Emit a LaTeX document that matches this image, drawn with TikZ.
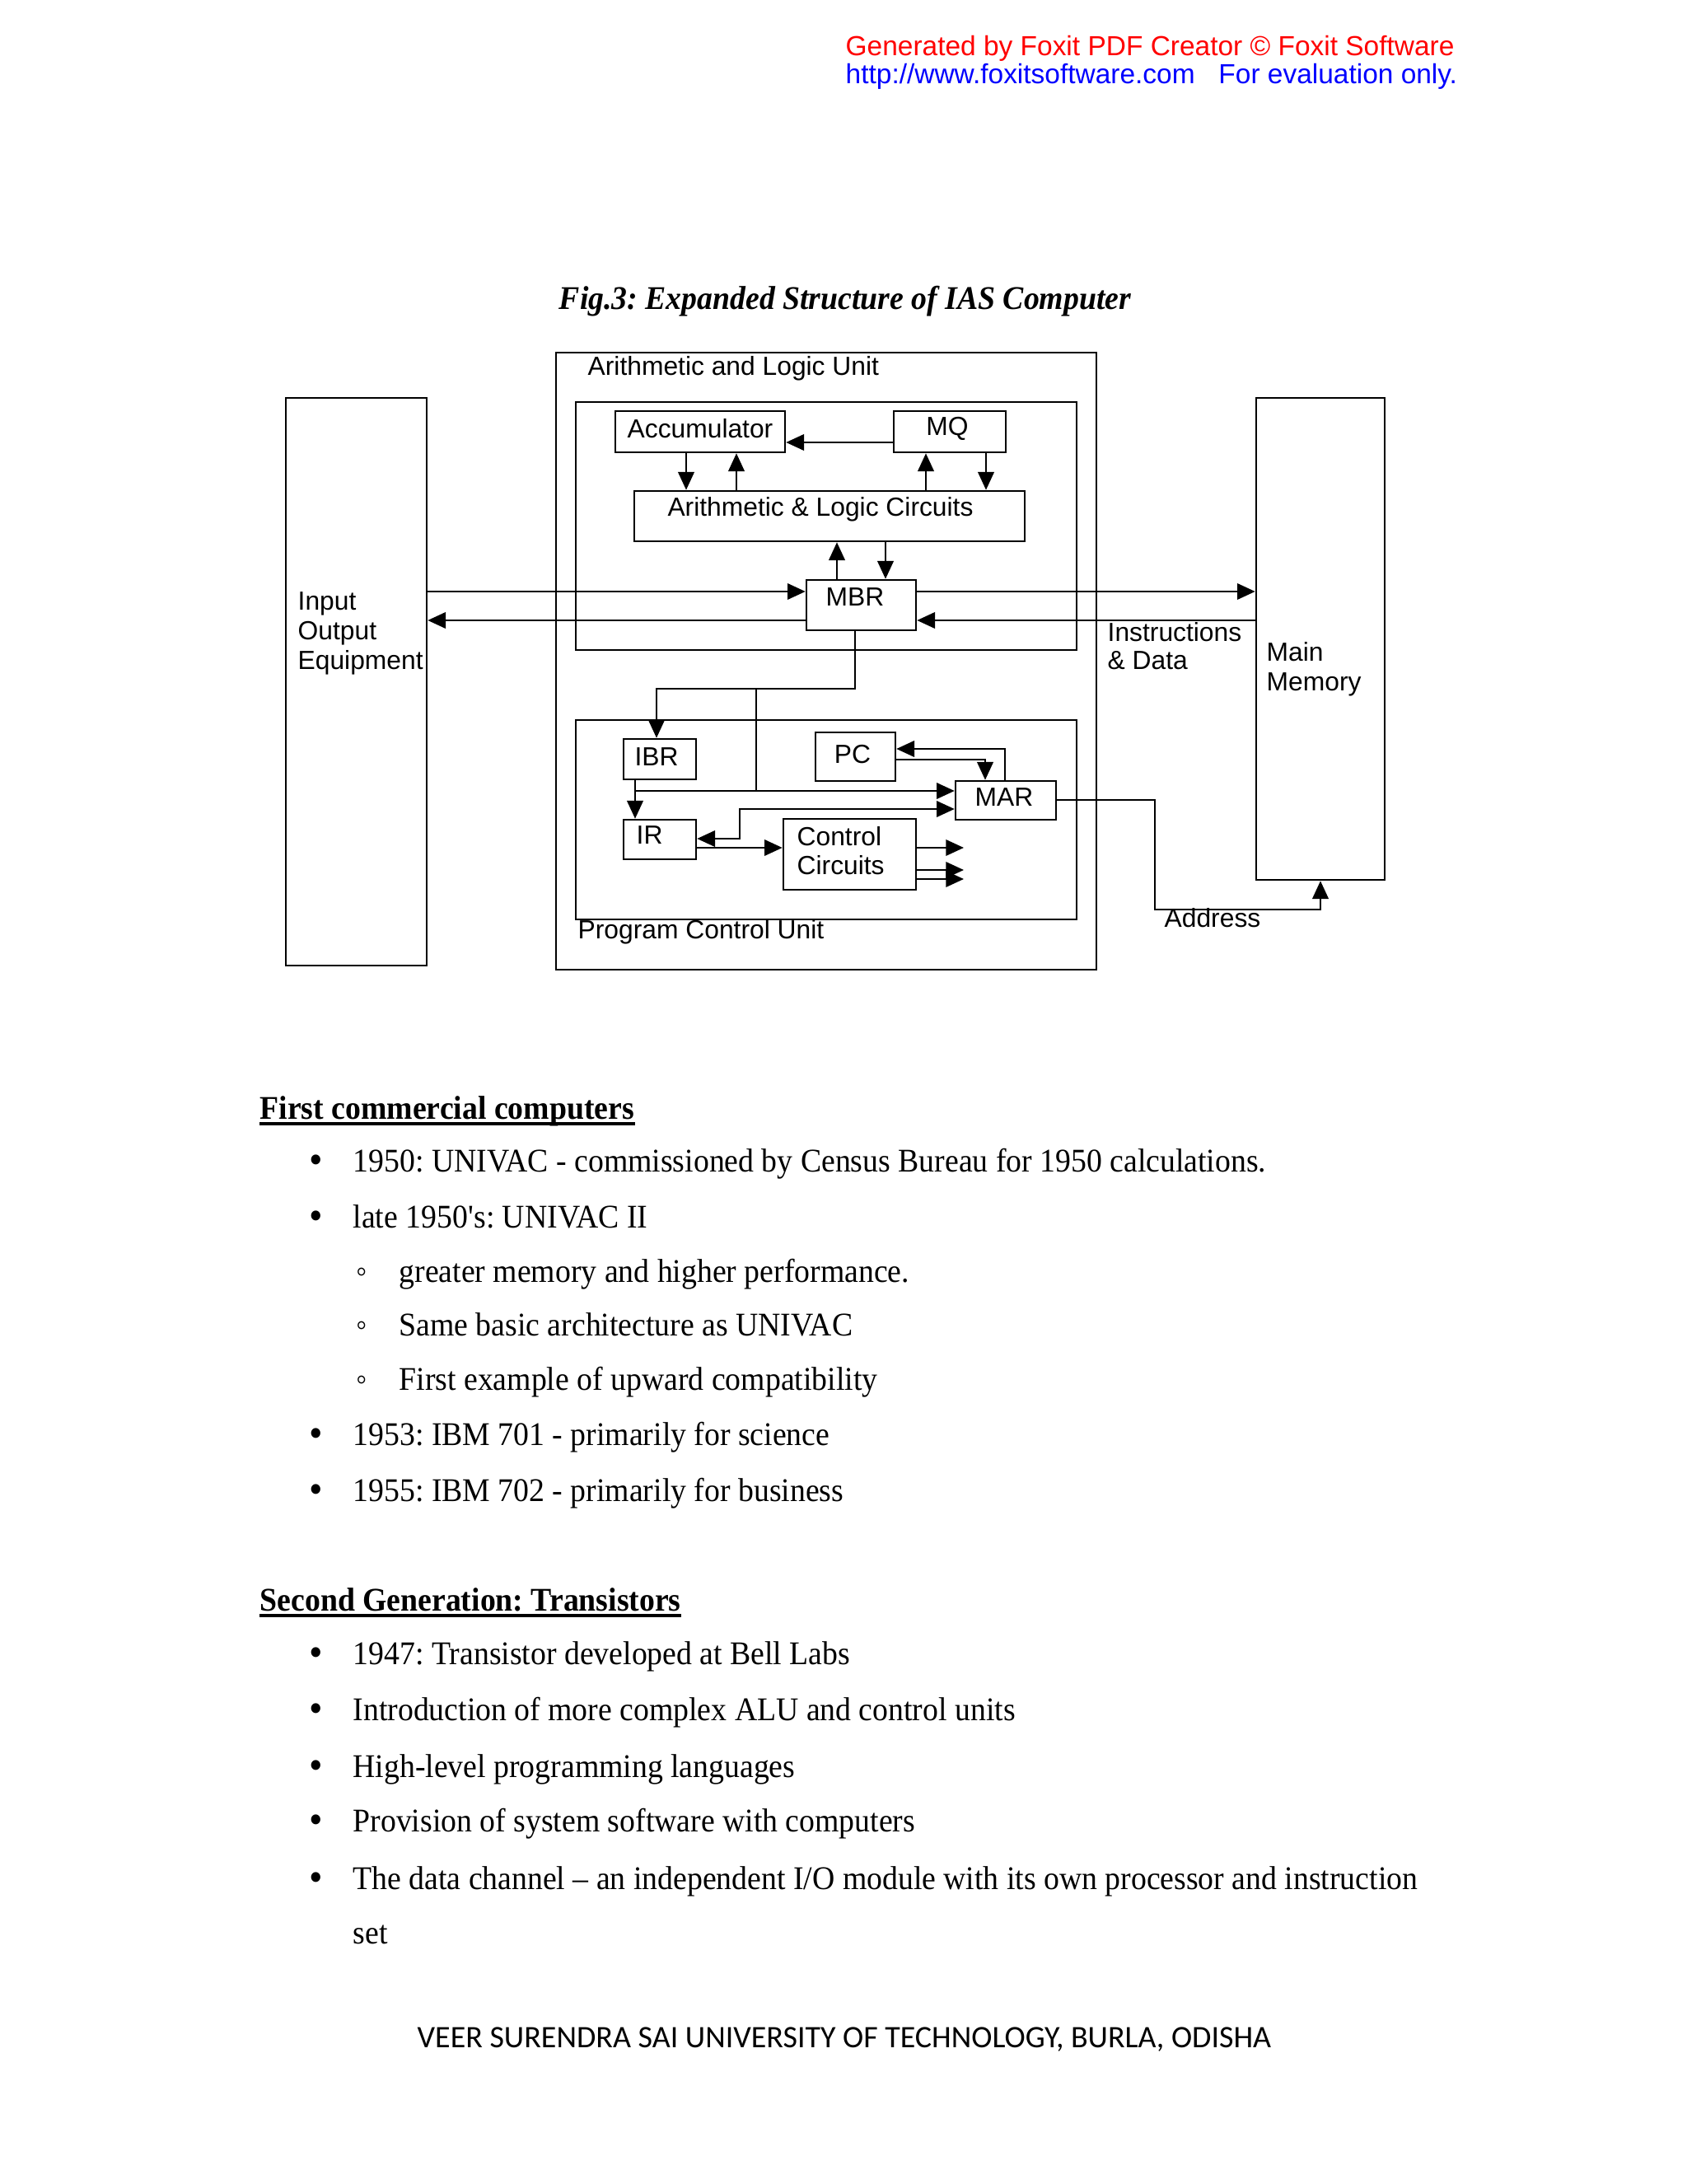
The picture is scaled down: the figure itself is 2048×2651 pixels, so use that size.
\documentclass[tikz,border=0pt]{standalone}
\usepackage{fontspec}
\setmainfont{Liberation Serif}[FakeStretch=0.94]
\setsansfont{Liberation Sans}
\newfontfamily\footfont{Carlito}
\usepackage{tikz}
\usetikzlibrary{positioning}
\usetikzlibrary{fit,arrows.meta}
\frenchspacing

\tikzset{
	box/.style={draw, line width=0.75pt, inner sep=0pt},
	lbl/.style={inner sep=0pt, anchor=west, align=left, font=\sffamily\fontsize{9.5}{10.8}\selectfont},
	link/.style={line width=0.75pt},
	arr/.style={link, -{Triangle[length=6.5pt,width=5.8pt]}},
	body/.style={inner sep=0pt, anchor=base west, font=\fontsize{12}{14}\selectfont},
	dot/.style={body, yshift=-0.8pt, font=\fontsize{15}{15}\selectfont},
	head/.style={body, font=\bfseries\fontsize{12}{14}\selectfont},
}

\begin{document}
\begin{tikzpicture}[x=0.29883pt, y=-0.29883pt]
	
	\useasboundingbox (0,0) rectangle (2048,2651);
	
	% watermark lines at the top
	\node[inner sep=0pt, anchor=base west, text=red, font=\sffamily\fontsize{10}{12}\selectfont] (gen) at (1026,68) {Generated by Foxit PDF Creator © Foxit Software};
	\node[inner sep=0pt, anchor=base west, text=blue, font=\sffamily\fontsize{10}{12}\selectfont] (url) at (1026,102) {http://www.foxitsoftware.com\hspace{8.6pt}For evaluation only.};
	
	\node[inner sep=0pt, anchor=base, font=\bfseries\itshape\fontsize{12}{14}\selectfont] (title) at (1026,376) {Fig.3: Expanded Structure of IAS Computer};
	
	%%%%%%%%%%%%%%%%%%%%%%%%%%%%%%%%%%%%%%%%%%%%%%%%%%%%%%%%%%%%%%
	% the boxes, given by their corners
	\node[box, fit={(347,483) (518,1172)}] (io) {};
	\node[box, fit={(675,428) (1331,1177)}] (alu) {};
	\node[box, fit={(699,488) (1307,789)}] (alui) {};
	\node[box, fit={(747,499) (953,549)}] (acc) {};
	\node[box, fit={(1085,499) (1221,549)}] (mq) {};
	\node[box, fit={(770,596) (1244,657)}] (alc) {};
	\node[box, fit={(979,704) (1112,765)}] (mbr) {};
	\node[box, fit={(699,874) (1307,1116)}] (pcu) {};
	\node[box, fit={(757,897) (845,946)}] (ibr) {};
	\node[box, fit={(990,889) (1087,948)}] (pc) {};
	\node[box, fit={(1160,948) (1282,995)}] (mar) {};
	\node[box, fit={(757,995) (845,1043)}] (ir) {};
	\node[box, fit={(951,994) (1112,1080)}] (cc) {};
	\node[box, fit={(1525,483) (1681,1068)}] (mem) {};
	
	% labels
	\node[lbl, anchor=center] (acctxt) at (850,520) {Accumulator};
	\node[lbl, anchor=center] (mqtxt) at (1150,520) {MQ};
	\node[lbl, anchor=center] (alctxt) at (996,618) {Arithmetic \& Logic Circuits};
	\node[lbl, anchor=center] (mbrtxt) at (1038,725) {MBR};
	\node[lbl, anchor=center] (ibrtxt) at (797,919) {IBR};
	\node[lbl, anchor=center] (pctxt) at (1035,916) {PC};
	\node[lbl, anchor=center] (martxt) at (1219,968) {MAR};
	\node[lbl] (alulbl) at (713,447) {Arithmetic and Logic Unit};
	\node[lbl] (iotxt) at (361,769) {Input\\Output\\Equipment};
	\node[lbl, font=\sffamily\fontsize{9.5}{10.2}\selectfont] (insdata) at (1344,784) {Instructions\\\& Data};
	\node[lbl] (memtxt) at (1537,812) {Main\\Memory};
	\node[lbl] (irtxt) at (772,1014) {IR};
	\node[lbl, font=\sffamily\fontsize{9.5}{10.5}\selectfont] (cctxt) at (967,1033) {Control\\Circuits};
	\node[lbl] (pculbl) at (701,1131) {Program Control Unit};
	\node[lbl] (addr) at (1413,1114) {Address};
	
	% inside the ALU
	\draw[arr] (mq.west |- 0,537) -- (acc.east |- 0,537);
	\draw[arr] (acc.south -| 833,0) -- (alc.north -| 833,0);
	\draw[arr] (alc.north -| 894,0) -- (acc.south -| 894,0);
	\draw[arr] (alc.north -| 1124,0) -- (mq.south -| 1124,0);
	\draw[arr] (mq.south -| 1197,0) -- (alc.north -| 1197,0);
	\draw[arr] (mbr.north -| 1016,0) -- (alc.south -| 1016,0);
	\draw[arr] (alc.south -| 1075,0) -- (mbr.north -| 1075,0);
	
	% MBR to the outside
	\draw[arr] (io.east |- 0,718) -- (mbr.west |- 0,718);
	\draw[arr] (mbr.west |- 0,753) -- (io.east |- 0,753);
	\draw[arr] (mbr.east |- 0,718) -- (mem.west |- 0,718);
	\draw[arr] (mem.west |- 0,753) -- (mbr.east |- 0,753);
	
	% program control unit
	\coordinate (split) at (918,836);
	\coordinate (join) at (918,960);
	\draw[arr] (mbr.south -| 1038,0) |- (797,836) -- (ibr.north -| 797,0);
	\draw[link] (split) -- (join);
	\draw[arr] (ibr.south -| 771,0) -- (ir.north -| 771,0);
	\draw[arr] (771,960) -- (mar.west |- 0,960);
	\draw[link, {Triangle[length=6.5pt,width=5.8pt]}-{Triangle[length=6.5pt,width=5.8pt]}] (ir.east |- 0,1018) -| (898,982) -- (mar.west |- 0,982);
	\draw[arr] (ir.east |- 0,1029) -- (cc.west |- 0,1029);
	\draw[arr] (pc.east |- 0,922) -| (mar.north -| 1196,0);
	\draw[arr] (mar.north -| 1220,0) |- (pc.east |- 0,909);
	\foreach \y [count=\i] in {1029,1056,1067}{
		\coordinate (out\i) at (1170,\y);
		\draw[arr] (cc.east |- out\i) -- (out\i);
	}
	
	% address to memory
	\draw[arr] (mar.east |- 0,971) -| (1402,1104) -| (mem.south);
	
	%%%%%%%%%%%%%%%%%%%%%%%%%%%%%%%%%%%%%%%%%%%%%%%%%%%%%%%%%%%%%%
	% the text below the figure
	\node[head] (h1) at (315,1358) {First commercial computers};
	\draw[line width=1.1pt] ([yshift=-1.8pt]h1.base west) -- ([yshift=-1.8pt]h1.base east);
	
	\foreach \y/\t in {1422/{1950: UNIVAC - commissioned by Census Bureau for 1950 calculations.},
		1490/{late 1950\textquotesingle s: UNIVAC II},
		1754/{1953: IBM 701 - primarily for science},
		1822/{1955: IBM 702 - primarily for business}}{
		\node[dot] at (375,\y) {•};
		\node[body] at (428,\y) {\t};
	}
	\foreach \y/\t in {1556/{greater memory and higher performance.},
		1621/{Same basic architecture as UNIVAC},
		1687/{First example of upward compatibility}}{
		\node[body] at (432,\y) {◦};
		\node[body] at (484,\y) {\t};
	}
	
	\node[head] (h2) at (315,1955) {Second Generation: Transistors};
	\draw[line width=1.1pt] ([yshift=-1.8pt]h2.base west) -- ([yshift=-1.8pt]h2.base east);
	
	\foreach \y/\t in {2020/{1947: Transistor developed at Bell Labs},
		2088/{Introduction of more complex ALU and control units},
		2157/{High-level programming languages},
		2223/{Provision of system software with computers},
		2293/{The data channel -- an independent I/O module with its own processor and instruction}}{
		\node[dot] at (375,\y) {•};
		\node[body] at (428,\y) {\t};
	}
	\node[body] (set) at (428,2359) {set};
	
	\node[inner sep=0pt, anchor=base, font=\footfont\fontsize{11.35}{13}\selectfont] (foot) at (1025,2485) {VEER SURENDRA SAI UNIVERSITY OF TECHNOLOGY, BURLA, ODISHA};
	
\end{tikzpicture}
\end{document}
